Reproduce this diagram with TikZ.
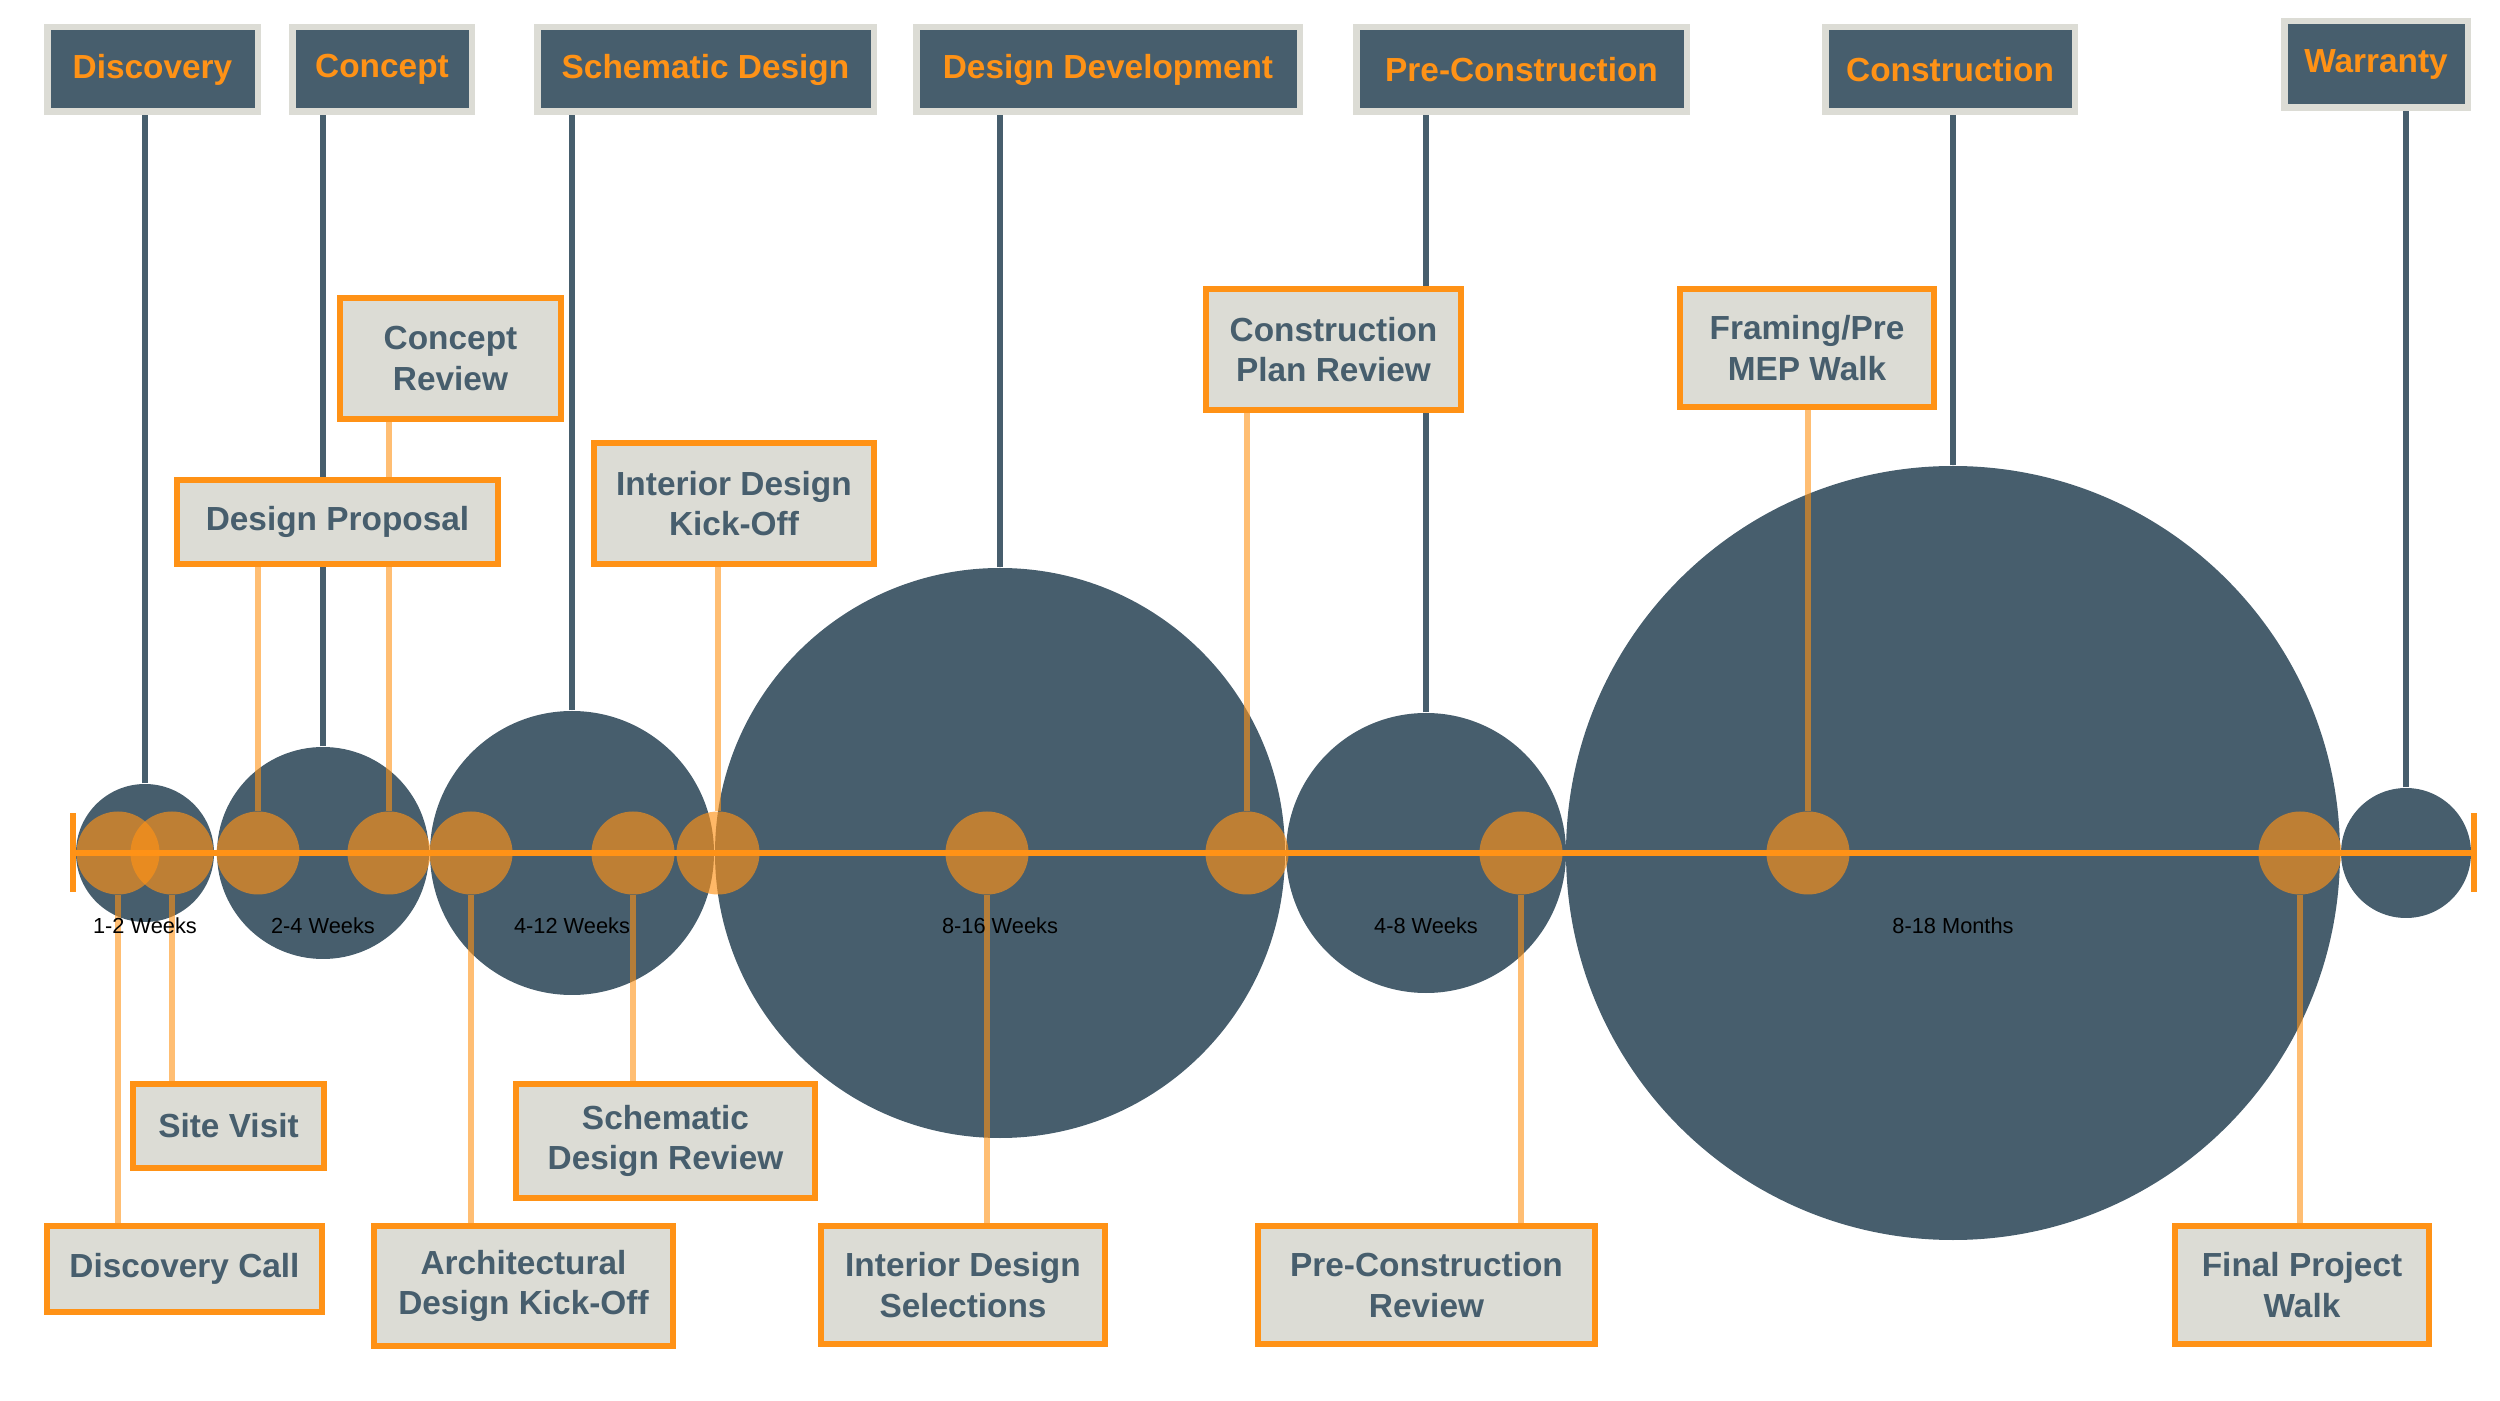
\documentclass[tikz,border=0pt]{standalone}
\usepackage{fontspec}
\setmainfont{Liberation Sans}
\definecolor{slate}{RGB}{71,94,109}
\definecolor{amber}{RGB}{255,146,22}
\definecolor{stone}{RGB}{220,220,213}
\newcommand{\labfont}{\fontsize{9.5}{11.6}\selectfont\bfseries}
\newcommand{\durfont}{\fontsize{6.2}{7}\selectfont}
\pgfdeclarelayer{back}
\pgfdeclarelayer{links}
\pgfsetlayers{back,links,main}
\begin{document}
\begin{tikzpicture}[
    phasebox/.style={draw=stone, line width=0.065cm, fill=slate, text=amber, font=\labfont, inner sep=0pt, minimum height=0.845cm},
    milebox/.style={draw=amber, line width=0.06cm, fill=stone, text=slate, font=\labfont, align=center, inner sep=0pt},
    phasedot/.style={circle, fill=slate, inner sep=0pt},
    miledot/.style={circle, fill=amber, fill opacity=0.65, inner sep=0pt, minimum size=0.83cm},
    phaseline/.style={slate, line width=0.06cm},
    mileline/.style={amber, draw opacity=0.6, line width=0.053cm},
    durlabel/.style={font=\durfont, text=black, inner sep=0pt},
    axisline/.style={amber, line width=0.06cm}
]
    \useasboundingbox (0,0) rectangle (25,-14.01);

    % phase circles, sized by duration
    \begin{pgfonlayer}{back}
    \node[phasedot, minimum size=1.38cm] (p1) at (1.45,-8.53) {};
    \node[phasedot, minimum size=2.12cm] (p2) at (3.23,-8.53) {};
    \node[phasedot, minimum size=2.84cm] (p3) at (5.72,-8.53) {};
    \node[phasedot, minimum size=5.70cm] (p4) at (10.00,-8.53) {};
    \node[phasedot, minimum size=2.80cm] (p5) at (14.26,-8.53) {};
    \node[phasedot, minimum size=7.74cm] (p6) at (19.53,-8.53) {};
    \node[phasedot, minimum size=1.30cm] (p7) at (24.06,-8.53) {};
    \end{pgfonlayer}

    % phase headings
    \node[phasebox, minimum width=2.105cm] (h1) at (1.525,-0.695) {Discovery};
    \node[phasebox, minimum width=1.795cm] (h2) at (3.82,-0.695) {Concept};
    \node[phasebox, minimum width=3.365cm] (h3) at (7.055,-0.695) {Schematic Design};
    \node[phasebox, minimum width=3.835cm] (h4) at (11.08,-0.695) {Design Development};
    \node[phasebox, minimum width=3.305cm] (h5) at (15.215,-0.695) {Pre-Construction};
    \node[phasebox, minimum width=2.495cm] (h6) at (19.50,-0.695) {Construction};
    \node[phasebox, minimum width=1.835cm, minimum height=0.865cm] (h7) at (23.76,-0.645) {Warranty};

    % milestones
    \node[miledot] (m1) at (1.18,-8.53) {};
    \node[miledot] (m2) at (1.72,-8.53) {};
    \node[miledot] (m3) at (2.58,-8.53) {};
    \node[miledot] (m4) at (3.89,-8.53) {};
    \node[miledot] (m5) at (4.71,-8.53) {};
    \node[miledot] (m6) at (6.33,-8.53) {};
    \node[miledot] (m7) at (7.18,-8.53) {};
    \node[miledot] (m8) at (9.87,-8.53) {};
    \node[miledot] (m9) at (12.47,-8.53) {};
    \node[miledot] (m10) at (15.21,-8.53) {};
    \node[miledot] (m11) at (18.08,-8.53) {};
    \node[miledot] (m12) at (23.00,-8.53) {};

    % milestone labels
    \node[milebox, minimum width=2.75cm, minimum height=0.86cm] (b1) at (1.845,-12.69) {Discovery Call};
    \node[milebox, minimum width=1.91cm, minimum height=0.84cm] (b2) at (2.285,-11.26) {Site Visit};
    \node[milebox, minimum width=3.21cm, minimum height=0.84cm] (b3) at (3.375,-5.22) {Design Proposal};
    \node[milebox, minimum width=2.21cm, minimum height=1.21cm] (b4) at (4.505,-3.585) {Concept\\Review};
    \node[milebox, minimum width=2.99cm, minimum height=1.20cm] (b5) at (5.235,-12.86) {Architectural\\Design Kick-Off};
    \node[milebox, minimum width=2.99cm, minimum height=1.14cm] (b6) at (6.655,-11.41) {Schematic\\Design Review};
    \node[milebox, minimum width=2.80cm, minimum height=1.21cm] (b7) at (7.34,-5.035) {Interior Design\\Kick-Off};
    \node[milebox, minimum width=2.84cm, minimum height=1.18cm] (b8) at (9.63,-12.85) {Interior Design\\Selections};
    \node[milebox, minimum width=2.55cm, minimum height=1.21cm] (b9) at (13.335,-3.495) {Construction\\Plan Review};
    \node[milebox, minimum width=3.37cm, minimum height=1.18cm] (b10) at (14.265,-12.85) {Pre-Construction\\Review};
    \node[milebox, minimum width=2.54cm, minimum height=1.18cm] (b11) at (18.07,-3.48) {Framing/Pre\\MEP Walk};
    \node[milebox, minimum width=2.54cm, minimum height=1.18cm] (b12) at (23.02,-12.85) {Final Project\\Walk};

    % connectors
    \begin{pgfonlayer}{links}
    \draw[phaseline] (p1.north) -- (p1.north |- h1.south);
    \draw[phaseline] (p2.north) -- (p2.north |- h2.south);
    \draw[phaseline] (p3.north) -- (p3.north |- h3.south);
    \draw[phaseline] (p4.north) -- (p4.north |- h4.south);
    \draw[phaseline] (p5.north) -- (p5.north |- h5.south);
    \draw[phaseline] (p6.north) -- (p6.north |- h6.south);
    \draw[phaseline] (p7.north) -- (p7.north |- h7.south);
    \draw[mileline] (m1.south) -- (m1.south |- b1.north);
    \draw[mileline] (m2.south) -- (m2.south |- b2.north);
    \draw[mileline] (m3.north) -- (m3.north |- b3.south);
    \draw[mileline] (m4.north) -- (m4.north |- b4.south);
    \draw[mileline] (m5.south) -- (m5.south |- b5.north);
    \draw[mileline] (m6.south) -- (m6.south |- b6.north);
    \draw[mileline] (m7.north) -- (m7.north |- b7.south);
    \draw[mileline] (m8.south) -- (m8.south |- b8.north);
    \draw[mileline] (m9.north) -- (m9.north |- b9.south);
    \draw[mileline] (m10.south) -- (m10.south |- b10.north);
    \draw[mileline] (m11.north) -- (m11.north |- b11.south);
    \draw[mileline] (m12.south) -- (m12.south |- b12.north);
    \end{pgfonlayer}

    % time axis
    \coordinate (t0) at (0.73,-8.53);
    \coordinate (t1) at (24.74,-8.53);
    \draw[axisline] (t0) -- (t1);
    \draw[axisline] ([yshift=0.395cm]t0) -- ([yshift=-0.395cm]t0);
    \draw[axisline] ([yshift=0.395cm]t1) -- ([yshift=-0.395cm]t1);

    % durations
    \node[durlabel] (d1) at (1.45,-9.255) {1-2 Weeks};
    \node[durlabel] (d2) at (3.23,-9.255) {2-4 Weeks};
    \node[durlabel] (d3) at (5.72,-9.255) {4-12 Weeks};
    \node[durlabel] (d4) at (10.00,-9.255) {8-16 Weeks};
    \node[durlabel] (d5) at (14.26,-9.255) {4-8 Weeks};
    \node[durlabel] (d6) at (19.53,-9.255) {8-18 Months};
\end{tikzpicture}
\end{document}
